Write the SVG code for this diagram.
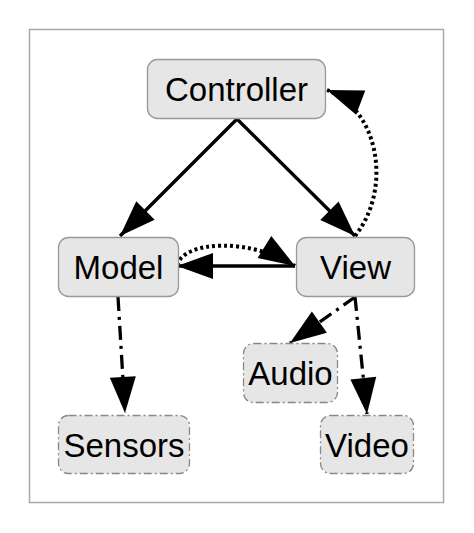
<svg xmlns="http://www.w3.org/2000/svg" width="474" height="533" viewBox="0 0 474 533">
<style>
.node rect{fill:#e6e6e6;stroke:#999;stroke-width:1.3}
.node.sub rect{stroke:#888;stroke-dasharray:8 3 2 3}
.node text{font-family:"Liberation Sans",Arial,sans-serif;font-size:33px;fill:#000;text-anchor:middle}
.solid{fill:none;stroke:#000;stroke-width:3.3}
.dot{fill:none;stroke:#000;stroke-width:4;stroke-dasharray:3 3}
.dashdot{fill:none;stroke:#000;stroke-width:3.3;stroke-dasharray:14 6 3 6}
</style>
<defs>
<marker id="ah" markerUnits="userSpaceOnUse" markerWidth="40" markerHeight="30" refX="36" refY="13" orient="auto" overflow="visible">
<path d="M0,0 L36,13 L0,26 z" fill="#000"/>
</marker>
</defs>
<rect x="29.5" y="29.5" width="414" height="473" fill="#fff" stroke="#a8a8a8" stroke-width="1.5"/>
<g id="connectors">
<path class="solid" d="M237,119 L120,236" marker-end="url(#ah)"/>
<path class="solid" d="M237,119 L355,236" marker-end="url(#ah)"/>
<path class="dot" d="M355,236 C392,190 380,110 327,90" marker-end="url(#ah)"/>
<path class="dot" d="M177,265 C185,240 250,238 295,266" marker-end="url(#ah)"/>
<path class="solid" d="M295,266 L177,266" marker-end="url(#ah)"/>
<path class="dashdot" d="M118,297 L125,413" marker-end="url(#ah)"/>
<path class="dashdot" d="M355,297 L290,343" marker-end="url(#ah)"/>
<path class="dashdot" d="M355,297 L367,414" marker-end="url(#ah)"/>
</g>
<g id="controller" class="node"><rect x="147.5" y="59.5" width="178" height="59" rx="10"/><text x="236.5" y="100.5">Controller</text></g>
<g id="model" class="node"><rect x="58.5" y="237.5" width="120" height="59" rx="10"/><text x="118.5" y="278.5">Model</text></g>
<g id="view" class="node"><rect x="296.5" y="237.5" width="118" height="59" rx="10"/><text x="355.5" y="278.5">View</text></g>
<g id="audio" class="node sub"><rect x="243.5" y="343.5" width="94" height="59" rx="10"/><text x="290.5" y="384.5">Audio</text></g>
<g id="sensors" class="node sub"><rect x="58.5" y="415.5" width="131" height="58" rx="10"/><text x="124" y="456.5">Sensors</text></g>
<g id="video" class="node sub"><rect x="320.5" y="415.5" width="93" height="58" rx="10"/><text x="367" y="456.5">Video</text></g>
</svg>
